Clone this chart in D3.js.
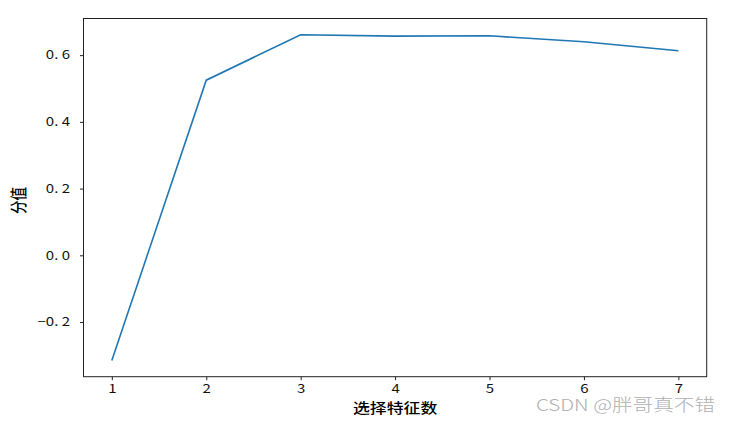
<!DOCTYPE html>
<html>
<head>
<meta charset="utf-8">
<script src="https://cdn.jsdelivr.net/npm/d3@7"></script>
<style>
  body { margin: 0; background: #fff; }
  text { font-family: "Noto Sans CJK SC", "DejaVu Sans", sans-serif; }
</style>
</head>
<body>
<div id="chart"></div>
<script>
// data
var featureCounts = [1, 2, 3, 4, 5, 6, 7];
var scores = [-0.315, 0.525, 0.661, 0.657, 0.658, 0.640, 0.613];
var yTicks = [-0.2, 0.0, 0.2, 0.4, 0.6];

var svgWidth = 730, svgHeight = 424;
var margin = { top: 18.5, right: 23.3, bottom: 47.3, left: 83.5 };
var width = svgWidth - margin.left - margin.right;
var height = svgHeight - margin.top - margin.bottom;

// the original picture is a bit stretched sideways
var stretch = "scale(1.25,1)";

var svg = d3.select("#chart").append("svg")
  .attr("width", svgWidth)
  .attr("height", svgHeight);

var chartGroup = svg.append("g")
  .attr("transform", `translate(${margin.left}, ${margin.top})`);

// matplotlib style 5% padding
var xPad = (d3.max(featureCounts) - d3.min(featureCounts)) * 0.05;
var yPad = (d3.max(scores) - d3.min(scores)) * 0.05;

var xScale = d3.scaleLinear()
  .domain([d3.min(featureCounts) - xPad, d3.max(featureCounts) + xPad])
  .range([0, width]);

var yScale = d3.scaleLinear()
  .domain([d3.min(scores) - yPad, d3.max(scores) + yPad])
  .range([height, 0]);

var bottomAxis = d3.axisBottom(xScale)
  .tickValues(featureCounts)
  .tickSize(3.5)
  .tickPadding(4)
  .tickFormat(d3.format("d"));

var leftAxis = d3.axisLeft(yScale)
  .tickValues(yTicks)
  .tickSize(3.5)
  .tickPadding(7.3)
  .tickFormat(d => d3.format(".1f")(d).replace("-", "\u2212").replace(".", ".\u00a0"));

var xAxis = chartGroup.append("g")
  .attr("transform", `translate(0, ${height})`)
  .call(bottomAxis);

var yAxis = chartGroup.append("g")
  .call(leftAxis);

[xAxis, yAxis].forEach(function(ax) {
  ax.select(".domain").remove();
  ax.selectAll("line").attr("stroke", "#222").attr("stroke-width", 1);
  ax.selectAll("text")
    .attr("fill", "#111")
    .attr("font-size", 12)
    .attr("transform", stretch);
});

// frame
chartGroup.append("rect")
  .attr("x", 0)
  .attr("y", 0)
  .attr("width", width)
  .attr("height", height)
  .attr("fill", "none")
  .attr("stroke", "#222")
  .attr("stroke-width", 1);

var line = d3.line()
  .x((d, i) => xScale(featureCounts[i]))
  .y(d => yScale(d));

chartGroup.append("path")
  .datum(scores)
  .attr("d", line)
  .attr("fill", "none")
  .attr("stroke", "#1f77b4")
  .attr("stroke-width", 1.6);

// axis labels
chartGroup.append("text")
  .attr("transform", `translate(${width / 2}, ${height + 36.5}) ${stretch}`)
  .attr("text-anchor", "middle")
  .attr("font-size", 13.5)
  .attr("font-weight", 500)
  .attr("fill", "#000")
  .text("选择特征数");

chartGroup.append("text")
  .attr("transform", `translate(${-margin.left + 25}, ${height / 2 + 3}) ${stretch} rotate(-90)`)
  .attr("text-anchor", "middle")
  .attr("font-size", 13.5)
  .attr("font-weight", 500)
  .attr("fill", "#000")
  .text("分值");

// watermark
svg.append("text")
  .attr("transform", `translate(715, 410.5) ${stretch}`)
  .attr("text-anchor", "end")
  .attr("font-size", 16.5)
  .attr("font-weight", 300)
  .attr("fill", "#b0b0b0")
  .text("CSDN @胖哥真不错");
</script>
</body>
</html>
